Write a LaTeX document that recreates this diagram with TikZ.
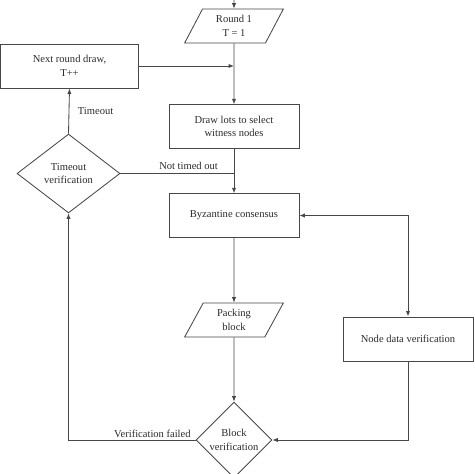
\documentclass[tikz,border=0pt]{standalone}
\usepackage{fontspec}
\setmainfont{Liberation Serif}
\usetikzlibrary{arrows.meta,positioning,shapes.geometric}
\definecolor{flowline}{HTML}{474747}
\definecolor{flowtext}{HTML}{2A2A2A}
\tikzset{
  proc/.style    = {draw=flowline,line width=0.8pt,minimum width=4.33cm,
                     minimum height=1.45cm,align=center,text=flowtext},
  io/.style      = {trapezium,trapezium left angle=65,trapezium right angle=115,
                     trapezium stretches=true,draw=flowline,line width=0.8pt,
                     minimum width=3.3cm,minimum height=1.13cm,inner sep=1pt,
                     align=center,text=flowtext},
  decide/.style  = {diamond,draw=flowline,line width=0.8pt,inner sep=0pt,
                     align=center,text=flowtext},
  flowarr/.style = {-{Latex[length=1.8mm,width=1.4mm]},draw=flowline,
                     line width=0.8pt},
  flowlbl/.style = {text=flowtext,inner sep=1pt},
}
\begin{document}
\begin{tikzpicture}[x=0.03333cm,y=-0.03333cm]
  \useasboundingbox (0,0) rectangle (474,474);
  \clip (0,0) rectangle (474,474);
  % Main column
  \coordinate (start) at (234,-5);
  \node[io] (round) at (234,26) {Round 1\\[1pt] T = 1};
  \node[proc] (lots) at (234,126.5) {Draw lots to select\\[1pt] witness nodes};
  \node[proc] (byz) at (234,215.5) {Byzantine consensus};
  \node[io] (pack) at (234,320) {Packing\\[1pt] block};
  \node[decide,minimum width=2.53cm,minimum height=2.53cm] (block)
        at (234,440) {Block\\[1pt] verification};
  % Left loop
  \node[proc,minimum width=4.6cm,minimum height=1.47cm] (next)
        at (69.5,66) {Next round draw,\\[1pt] T++};
  \node[decide,minimum width=3.43cm,minimum height=2.63cm] (timeout)
        at (68.5,173.5) {Timeout\\[1pt] verification};
  % Right branch
  \node[proc,minimum height=1.47cm] (nodev) at (408,339)
        {Node data verification};

  \draw[flowarr] (start) -- (round.north);
  \draw[flowarr] (round.south) -- (lots.north);
  \draw[flowarr] (next.east) -- (next.east -| lots.north);
  \draw[flowarr] (timeout.north) -- node[right=7pt,flowlbl]{Timeout} (next.south);
  \draw[draw=flowline,line width=0.8pt] (timeout.east)
        -- node[pos=0.6,above=2pt,flowlbl]{Not timed out} (timeout.east -| lots.south);
  \draw[flowarr] (lots.south) -- (byz.north);
  \draw[flowarr] (byz.south) -- (pack.north);
  \draw[flowarr,{Latex[length=1.8mm,width=1.4mm]}-{Latex[length=1.8mm,width=1.4mm]}]
        (byz.east) -| (nodev.north);
  \draw[flowarr] (pack.south) -- (block.north);
  \draw[flowarr] (nodev.south) |- (block.east);
  \draw[flowarr] (block.west) -| node[pos=0.17,above=1pt,flowlbl]{Verification failed}
        (timeout.south);
\end{tikzpicture}
\end{document}
